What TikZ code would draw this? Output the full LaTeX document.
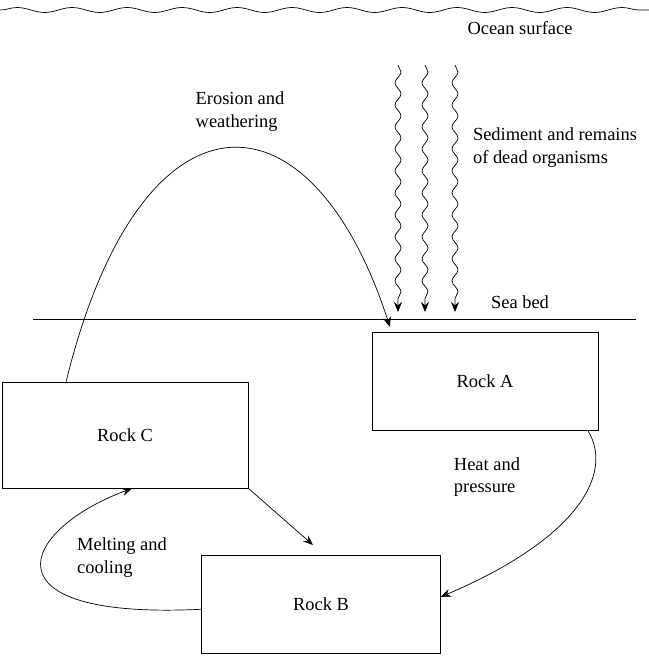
\documentclass[tikz,border=0pt]{standalone}
\usepackage{fontspec}
\setmainfont{Liberation Serif}
\usetikzlibrary{decorations.pathmorphing, arrows.meta, positioning}
\tikzset{
	rock/.style = {rectangle, draw=black, inner sep=0pt},
	lbl/.style = {align=left, font=\fontsize{10.5}{13}\selectfont},
	arrow/.style = {-{Stealth[length=2mm, width=1.6mm]}},
	wave/.style = {decorate, decoration={snake, segment length=0.44cm, amplitude=0.06cm, post length=2mm}, arrow},
}
\begin{document}
\begin{tikzpicture}[x=0.02cm, y=-0.02cm]
	\useasboundingbox (0,0) rectangle (649,656);
	% surface and sea bed
	\draw[decorate, decoration={snake, segment length=1.1cm, amplitude=0.05cm}] (0,10) -- (649,10);
	\node (Surface) [lbl] at (520,28) {Ocean surface};
	\draw (33,319) coordinate (BedL) -- (636,319) coordinate (BedR);
	\node (Bed) [lbl] at (520,302) {Sea bed};
	% rocks
	\node (RockA) [rock, minimum width=4.52cm, minimum height=1.96cm] at (485,381) {\fontsize{10.5}{13}\selectfont Rock A};
	\node (RockC) [rock, minimum width=4.92cm, minimum height=2.12cm] at (125,435) {\fontsize{10.5}{13}\selectfont Rock C};
	\node (RockB) [rock, minimum width=4.78cm, minimum height=1.96cm] at (321,604) {\fontsize{10.5}{13}\selectfont Rock B};
	% sediment
	\foreach \x in {398,425,455} {
		\coordinate (Top\x) at (\x,65);
		\coordinate (Bot\x) at (\x,312);
		\draw[wave] (Top\x) -- (Bot\x);
	}
	\node (Sediment) [lbl] at (555,148) {Sediment and remains\\of dead organisms};
	% cycle
	\coordinate (Hit) at (390,327);
	\coordinate (Start) at (66,382);
	\draw[arrow] (Start) .. controls (140,80) and (310,80) .. (Hit);
	\node (Erosion) [lbl] at (240,112) {Erosion and\\weathering};
	\draw[arrow] ([xshift=-6]RockA.south east) .. controls (615,475) and (575,540) .. ([yshift=-24]RockB.north east);
	\node (Heat) [lbl] at (487,477) {Heat and\\pressure};
	\draw[arrow] (RockC.south east) -- (313,545);
	\draw[arrow] ([yshift=-3]RockB.west) .. controls (-20,620) and (20,530) .. ([xshift=4]RockC.south);
	\node (Melting) [lbl] at (122,558) {Melting and\\cooling};
\end{tikzpicture}
\end{document}
